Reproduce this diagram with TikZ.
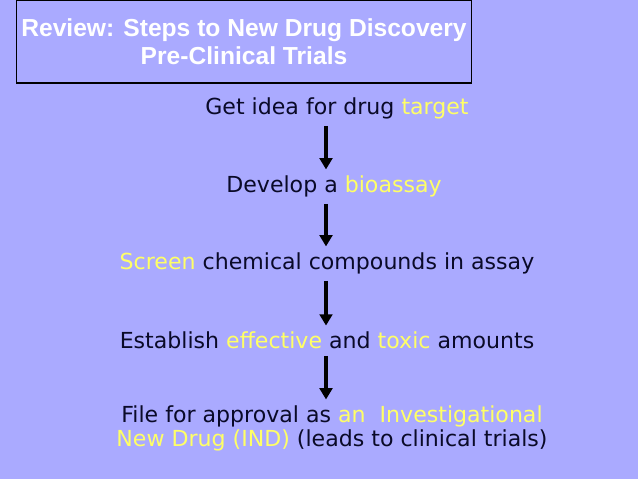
\documentclass[tikz,border=0pt]{standalone}
\usepackage{fontspec}
\setmainfont{DejaVu Sans}
\newfontfamily\titlefont{Liberation Sans}
\usetikzlibrary{arrows.meta,positioning}
\definecolor{slidebg}{RGB}{170,170,255}
\definecolor{hilite}{RGB}{255,255,102}
\definecolor{stepink}{RGB}{10,10,40}
\newcommand{\hl}[1]{\textcolor{hilite}{#1}}
\begin{document}
\begin{tikzpicture}[x=0.025cm,y=-0.025cm,
    stage/.style={text=stepink, font=\fontsize{15.7}{17}\selectfont, align=center, inner sep=2pt},
    heading/.style={draw=black, thick, minimum width=426*0.025cm, minimum height=83*0.025cm, align=center,
        text=white, font=\titlefont\bfseries\fontsize{17.5}{19.5}\selectfont},
    arrow/.style={-{Triangle[width=9pt,length=8pt]}, line width=2.8pt, black}
]
    \fill[slidebg] (0,0) rectangle (638,479);
    \useasboundingbox (0,0) rectangle (638,479);
    \node[heading] (title) at (244,41.5) {Review: Steps to New Drug Discovery\\Pre-Clinical Trials};
    \coordinate (ax) at (326,0);
    \node[stage] (idea) at (337,108) {Get idea for drug \hl{target}};
    \node[stage] (assay) at (334,186) {Develop a \hl{bioassay}};
    \node[stage] (screen) at (327,263) {\hl{Screen} chemical compounds in assay};
    \node[stage] (dose) at (327,340) {Establish \hl{effective} and \hl{toxic} amounts};
    \node[stage] (ind) at (332,428) {File for approval as \hl{an\ \ Investigational}\\\hl{New Drug (IND)} (leads to clinical trials)};

    \draw[arrow] ([yshift=-3pt]idea.south -| ax) -- ([yshift=2pt]assay.north -| ax);
    \draw[arrow] ([yshift=-3pt]assay.south -| ax) -- ([yshift=2pt]screen.north -| ax);
    \draw[arrow] ([yshift=-3pt]screen.south -| ax) -- ([yshift=2pt]dose.north -| ax);
    \draw[arrow] ([yshift=-3pt]dose.south -| ax) -- ([yshift=2pt]ind.north -| ax);
\end{tikzpicture}
\end{document}
